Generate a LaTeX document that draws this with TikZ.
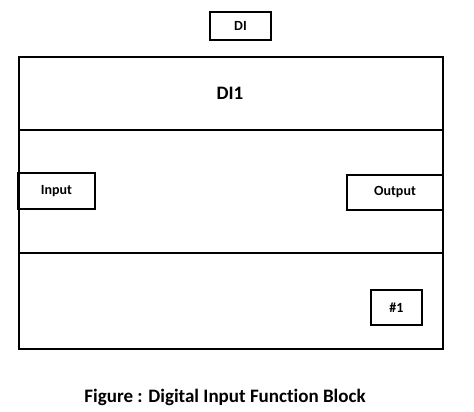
\documentclass[tikz,border=0pt]{standalone}
\usepackage{fontspec}
\setmainfont[Ligatures={NoCommon}]{Carlito}
\begin{document}
\begin{tikzpicture}[x=1pt,y=-1pt,
  box/.style={draw,line width=1.5pt},
  lbl/.style={font=\bfseries\fontsize{14}{16}\selectfont}]
\useasboundingbox (0,0) rectangle (474,412);
% top DI box
\node[box,minimum width=61pt,minimum height=28pt,inner sep=0pt,lbl] (di) at (240.5,26) {DI};
% main outer block sections
\draw[box] (19,57) rectangle (443,130);
\draw[box] (19,130) rectangle (443,253);
\draw[box] (19,253) rectangle (443,349);
\node[font=\bfseries\fontsize{19}{22}\selectfont] (di1) at (230,93) {DI1};
\node[box,minimum width=77pt,minimum height=36pt,inner sep=0pt,lbl] (in) at (56.5,191) {Input};
\node[box,minimum width=96pt,minimum height=35pt,inner sep=0pt,lbl] (out) at (395,192.5) {Output};
\node[box,minimum width=51pt,minimum height=35pt,inner sep=0pt,lbl] (num) at (396.5,307.5) {\#1};
\node[font=\bfseries\fontsize{19}{22}\selectfont] (cap) at (225,397) {Figure : Digital Input Function Block};
\end{tikzpicture}
\end{document}
